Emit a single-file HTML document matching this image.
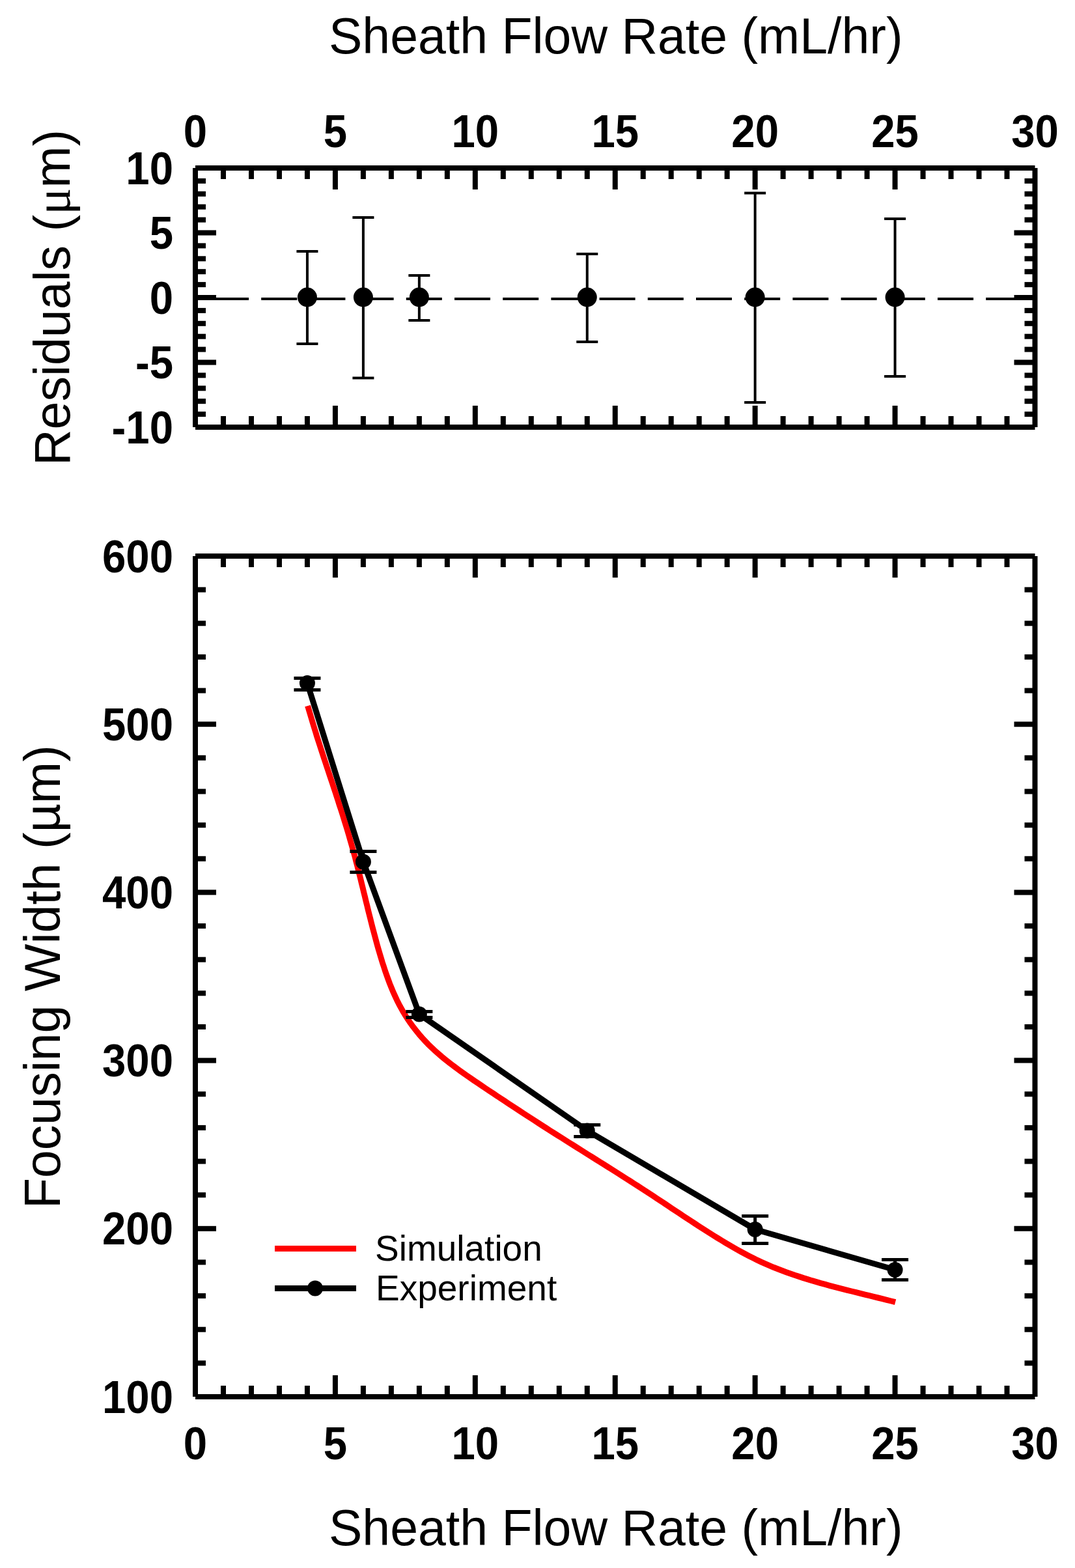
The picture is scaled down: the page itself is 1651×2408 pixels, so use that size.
<!DOCTYPE html>
<html><head><meta charset="utf-8"><title>Focusing width vs sheath flow rate</title>
<style>html,body{margin:0;padding:0;background:#fff;width:1651px;height:2408px;overflow:hidden}svg{display:block}</style>
</head><body>
<svg width="1651" height="2408" viewBox="0 0 1651 2408">
<style>
.tl{font-family:'Liberation Sans', Arial, sans-serif;font-weight:bold;font-size:66px;fill:#000}
.tt{font-family:'Liberation Sans', Arial, sans-serif;font-size:77px;fill:#000}
.lg{font-family:'Liberation Sans', Arial, sans-serif;font-size:55px;fill:#000}
.sym{font-family:'Liberation Serif', serif}
</style>
<rect width="1651" height="2408" fill="#fff"/>
<text x="505" y="82" class="tt">Sheath Flow Rate (mL/hr)</text>
<text x="505" y="2373" class="tt">Sheath Flow Rate (mL/hr)</text>
<text transform="translate(107,715) rotate(-90)" class="tt">Residuals (<tspan class="sym">μ</tspan>m)</text>
<text transform="translate(92,1856) rotate(-90)" class="tt">Focusing Width (µm)</text>
<line x1="304.0" y1="459" x2="1585.5" y2="459" stroke="#000" stroke-width="4" stroke-dasharray="55 19.2" stroke-dashoffset="51.20"/>
<line x1="300.00" y1="258.00" x2="1589.50" y2="258.00" stroke="#000" stroke-width="8"/>
<line x1="300.00" y1="656.00" x2="1589.50" y2="656.00" stroke="#000" stroke-width="8"/>
<line x1="300.00" y1="258.00" x2="300.00" y2="656.00" stroke="#000" stroke-width="8"/>
<line x1="1589.50" y1="258.00" x2="1589.50" y2="656.00" stroke="#000" stroke-width="8"/>
<line x1="342.98" y1="258.00" x2="342.98" y2="275.00" stroke="#000" stroke-width="8"/>
<line x1="342.98" y1="656.00" x2="342.98" y2="639.00" stroke="#000" stroke-width="8"/>
<line x1="385.97" y1="258.00" x2="385.97" y2="275.00" stroke="#000" stroke-width="8"/>
<line x1="385.97" y1="656.00" x2="385.97" y2="639.00" stroke="#000" stroke-width="8"/>
<line x1="428.95" y1="258.00" x2="428.95" y2="275.00" stroke="#000" stroke-width="8"/>
<line x1="428.95" y1="656.00" x2="428.95" y2="639.00" stroke="#000" stroke-width="8"/>
<line x1="471.93" y1="258.00" x2="471.93" y2="275.00" stroke="#000" stroke-width="8"/>
<line x1="471.93" y1="656.00" x2="471.93" y2="639.00" stroke="#000" stroke-width="8"/>
<line x1="514.92" y1="258.00" x2="514.92" y2="291.00" stroke="#000" stroke-width="8"/>
<line x1="514.92" y1="656.00" x2="514.92" y2="623.00" stroke="#000" stroke-width="8"/>
<line x1="557.90" y1="258.00" x2="557.90" y2="275.00" stroke="#000" stroke-width="8"/>
<line x1="557.90" y1="656.00" x2="557.90" y2="639.00" stroke="#000" stroke-width="8"/>
<line x1="600.88" y1="258.00" x2="600.88" y2="275.00" stroke="#000" stroke-width="8"/>
<line x1="600.88" y1="656.00" x2="600.88" y2="639.00" stroke="#000" stroke-width="8"/>
<line x1="643.87" y1="258.00" x2="643.87" y2="275.00" stroke="#000" stroke-width="8"/>
<line x1="643.87" y1="656.00" x2="643.87" y2="639.00" stroke="#000" stroke-width="8"/>
<line x1="686.85" y1="258.00" x2="686.85" y2="275.00" stroke="#000" stroke-width="8"/>
<line x1="686.85" y1="656.00" x2="686.85" y2="639.00" stroke="#000" stroke-width="8"/>
<line x1="729.83" y1="258.00" x2="729.83" y2="291.00" stroke="#000" stroke-width="8"/>
<line x1="729.83" y1="656.00" x2="729.83" y2="623.00" stroke="#000" stroke-width="8"/>
<line x1="772.82" y1="258.00" x2="772.82" y2="275.00" stroke="#000" stroke-width="8"/>
<line x1="772.82" y1="656.00" x2="772.82" y2="639.00" stroke="#000" stroke-width="8"/>
<line x1="815.80" y1="258.00" x2="815.80" y2="275.00" stroke="#000" stroke-width="8"/>
<line x1="815.80" y1="656.00" x2="815.80" y2="639.00" stroke="#000" stroke-width="8"/>
<line x1="858.78" y1="258.00" x2="858.78" y2="275.00" stroke="#000" stroke-width="8"/>
<line x1="858.78" y1="656.00" x2="858.78" y2="639.00" stroke="#000" stroke-width="8"/>
<line x1="901.77" y1="258.00" x2="901.77" y2="275.00" stroke="#000" stroke-width="8"/>
<line x1="901.77" y1="656.00" x2="901.77" y2="639.00" stroke="#000" stroke-width="8"/>
<line x1="944.75" y1="258.00" x2="944.75" y2="291.00" stroke="#000" stroke-width="8"/>
<line x1="944.75" y1="656.00" x2="944.75" y2="623.00" stroke="#000" stroke-width="8"/>
<line x1="987.73" y1="258.00" x2="987.73" y2="275.00" stroke="#000" stroke-width="8"/>
<line x1="987.73" y1="656.00" x2="987.73" y2="639.00" stroke="#000" stroke-width="8"/>
<line x1="1030.72" y1="258.00" x2="1030.72" y2="275.00" stroke="#000" stroke-width="8"/>
<line x1="1030.72" y1="656.00" x2="1030.72" y2="639.00" stroke="#000" stroke-width="8"/>
<line x1="1073.70" y1="258.00" x2="1073.70" y2="275.00" stroke="#000" stroke-width="8"/>
<line x1="1073.70" y1="656.00" x2="1073.70" y2="639.00" stroke="#000" stroke-width="8"/>
<line x1="1116.68" y1="258.00" x2="1116.68" y2="275.00" stroke="#000" stroke-width="8"/>
<line x1="1116.68" y1="656.00" x2="1116.68" y2="639.00" stroke="#000" stroke-width="8"/>
<line x1="1159.67" y1="258.00" x2="1159.67" y2="291.00" stroke="#000" stroke-width="8"/>
<line x1="1159.67" y1="656.00" x2="1159.67" y2="623.00" stroke="#000" stroke-width="8"/>
<line x1="1202.65" y1="258.00" x2="1202.65" y2="275.00" stroke="#000" stroke-width="8"/>
<line x1="1202.65" y1="656.00" x2="1202.65" y2="639.00" stroke="#000" stroke-width="8"/>
<line x1="1245.63" y1="258.00" x2="1245.63" y2="275.00" stroke="#000" stroke-width="8"/>
<line x1="1245.63" y1="656.00" x2="1245.63" y2="639.00" stroke="#000" stroke-width="8"/>
<line x1="1288.62" y1="258.00" x2="1288.62" y2="275.00" stroke="#000" stroke-width="8"/>
<line x1="1288.62" y1="656.00" x2="1288.62" y2="639.00" stroke="#000" stroke-width="8"/>
<line x1="1331.60" y1="258.00" x2="1331.60" y2="275.00" stroke="#000" stroke-width="8"/>
<line x1="1331.60" y1="656.00" x2="1331.60" y2="639.00" stroke="#000" stroke-width="8"/>
<line x1="1374.58" y1="258.00" x2="1374.58" y2="291.00" stroke="#000" stroke-width="8"/>
<line x1="1374.58" y1="656.00" x2="1374.58" y2="623.00" stroke="#000" stroke-width="8"/>
<line x1="1417.57" y1="258.00" x2="1417.57" y2="275.00" stroke="#000" stroke-width="8"/>
<line x1="1417.57" y1="656.00" x2="1417.57" y2="639.00" stroke="#000" stroke-width="8"/>
<line x1="1460.55" y1="258.00" x2="1460.55" y2="275.00" stroke="#000" stroke-width="8"/>
<line x1="1460.55" y1="656.00" x2="1460.55" y2="639.00" stroke="#000" stroke-width="8"/>
<line x1="1503.53" y1="258.00" x2="1503.53" y2="275.00" stroke="#000" stroke-width="8"/>
<line x1="1503.53" y1="656.00" x2="1503.53" y2="639.00" stroke="#000" stroke-width="8"/>
<line x1="1546.52" y1="258.00" x2="1546.52" y2="275.00" stroke="#000" stroke-width="8"/>
<line x1="1546.52" y1="656.00" x2="1546.52" y2="639.00" stroke="#000" stroke-width="8"/>
<line x1="300.00" y1="636.10" x2="316.00" y2="636.10" stroke="#000" stroke-width="8"/>
<line x1="1589.50" y1="636.10" x2="1573.50" y2="636.10" stroke="#000" stroke-width="8"/>
<line x1="300.00" y1="616.20" x2="316.00" y2="616.20" stroke="#000" stroke-width="8"/>
<line x1="1589.50" y1="616.20" x2="1573.50" y2="616.20" stroke="#000" stroke-width="8"/>
<line x1="300.00" y1="596.30" x2="316.00" y2="596.30" stroke="#000" stroke-width="8"/>
<line x1="1589.50" y1="596.30" x2="1573.50" y2="596.30" stroke="#000" stroke-width="8"/>
<line x1="300.00" y1="576.40" x2="316.00" y2="576.40" stroke="#000" stroke-width="8"/>
<line x1="1589.50" y1="576.40" x2="1573.50" y2="576.40" stroke="#000" stroke-width="8"/>
<line x1="300.00" y1="536.60" x2="316.00" y2="536.60" stroke="#000" stroke-width="8"/>
<line x1="1589.50" y1="536.60" x2="1573.50" y2="536.60" stroke="#000" stroke-width="8"/>
<line x1="300.00" y1="516.70" x2="316.00" y2="516.70" stroke="#000" stroke-width="8"/>
<line x1="1589.50" y1="516.70" x2="1573.50" y2="516.70" stroke="#000" stroke-width="8"/>
<line x1="300.00" y1="496.80" x2="316.00" y2="496.80" stroke="#000" stroke-width="8"/>
<line x1="1589.50" y1="496.80" x2="1573.50" y2="496.80" stroke="#000" stroke-width="8"/>
<line x1="300.00" y1="476.90" x2="316.00" y2="476.90" stroke="#000" stroke-width="8"/>
<line x1="1589.50" y1="476.90" x2="1573.50" y2="476.90" stroke="#000" stroke-width="8"/>
<line x1="300.00" y1="437.10" x2="316.00" y2="437.10" stroke="#000" stroke-width="8"/>
<line x1="1589.50" y1="437.10" x2="1573.50" y2="437.10" stroke="#000" stroke-width="8"/>
<line x1="300.00" y1="417.20" x2="316.00" y2="417.20" stroke="#000" stroke-width="8"/>
<line x1="1589.50" y1="417.20" x2="1573.50" y2="417.20" stroke="#000" stroke-width="8"/>
<line x1="300.00" y1="397.30" x2="316.00" y2="397.30" stroke="#000" stroke-width="8"/>
<line x1="1589.50" y1="397.30" x2="1573.50" y2="397.30" stroke="#000" stroke-width="8"/>
<line x1="300.00" y1="377.40" x2="316.00" y2="377.40" stroke="#000" stroke-width="8"/>
<line x1="1589.50" y1="377.40" x2="1573.50" y2="377.40" stroke="#000" stroke-width="8"/>
<line x1="300.00" y1="337.60" x2="316.00" y2="337.60" stroke="#000" stroke-width="8"/>
<line x1="1589.50" y1="337.60" x2="1573.50" y2="337.60" stroke="#000" stroke-width="8"/>
<line x1="300.00" y1="317.70" x2="316.00" y2="317.70" stroke="#000" stroke-width="8"/>
<line x1="1589.50" y1="317.70" x2="1573.50" y2="317.70" stroke="#000" stroke-width="8"/>
<line x1="300.00" y1="297.80" x2="316.00" y2="297.80" stroke="#000" stroke-width="8"/>
<line x1="1589.50" y1="297.80" x2="1573.50" y2="297.80" stroke="#000" stroke-width="8"/>
<line x1="300.00" y1="277.90" x2="316.00" y2="277.90" stroke="#000" stroke-width="8"/>
<line x1="1589.50" y1="277.90" x2="1573.50" y2="277.90" stroke="#000" stroke-width="8"/>
<line x1="300.00" y1="556.50" x2="332.00" y2="556.50" stroke="#000" stroke-width="8"/>
<line x1="1589.50" y1="556.50" x2="1557.50" y2="556.50" stroke="#000" stroke-width="8"/>
<line x1="300.00" y1="457.00" x2="332.00" y2="457.00" stroke="#000" stroke-width="8"/>
<line x1="1589.50" y1="457.00" x2="1557.50" y2="457.00" stroke="#000" stroke-width="8"/>
<line x1="300.00" y1="357.50" x2="332.00" y2="357.50" stroke="#000" stroke-width="8"/>
<line x1="1589.50" y1="357.50" x2="1557.50" y2="357.50" stroke="#000" stroke-width="8"/>
<text transform="translate(300.00,226.00) scale(0.99,1.065)" text-anchor="middle" class="tl">0</text>
<text transform="translate(514.92,226.00) scale(0.99,1.065)" text-anchor="middle" class="tl">5</text>
<text transform="translate(729.83,226.00) scale(0.99,1.065)" text-anchor="middle" class="tl">10</text>
<text transform="translate(944.75,226.00) scale(0.99,1.065)" text-anchor="middle" class="tl">15</text>
<text transform="translate(1159.67,226.00) scale(0.99,1.065)" text-anchor="middle" class="tl">20</text>
<text transform="translate(1374.58,226.00) scale(0.99,1.065)" text-anchor="middle" class="tl">25</text>
<text transform="translate(1589.50,226.00) scale(0.99,1.065)" text-anchor="middle" class="tl">30</text>
<text transform="translate(266.00,282.50) scale(0.99,1.065)" text-anchor="end" class="tl">10</text>
<text transform="translate(266.00,382.00) scale(0.99,1.065)" text-anchor="end" class="tl">5</text>
<text transform="translate(266.00,481.50) scale(0.99,1.065)" text-anchor="end" class="tl">0</text>
<text transform="translate(266.00,581.00) scale(0.99,1.065)" text-anchor="end" class="tl">-5</text>
<text transform="translate(266.00,680.50) scale(0.99,1.065)" text-anchor="end" class="tl">-10</text>
<line x1="471.93" y1="386.00" x2="471.93" y2="528.00" stroke="#000" stroke-width="4"/>
<line x1="455.43" y1="386.00" x2="488.43" y2="386.00" stroke="#000" stroke-width="4"/>
<line x1="455.43" y1="528.00" x2="488.43" y2="528.00" stroke="#000" stroke-width="4"/>
<circle cx="471.93" cy="456.5" r="15" fill="#000"/>
<line x1="557.90" y1="334.00" x2="557.90" y2="580.50" stroke="#000" stroke-width="4"/>
<line x1="541.40" y1="334.00" x2="574.40" y2="334.00" stroke="#000" stroke-width="4"/>
<line x1="541.40" y1="580.50" x2="574.40" y2="580.50" stroke="#000" stroke-width="4"/>
<circle cx="557.90" cy="456.5" r="15" fill="#000"/>
<line x1="643.87" y1="423.00" x2="643.87" y2="492.00" stroke="#000" stroke-width="4"/>
<line x1="627.37" y1="423.00" x2="660.37" y2="423.00" stroke="#000" stroke-width="4"/>
<line x1="627.37" y1="492.00" x2="660.37" y2="492.00" stroke="#000" stroke-width="4"/>
<circle cx="643.87" cy="456.5" r="15" fill="#000"/>
<line x1="901.77" y1="390.00" x2="901.77" y2="525.00" stroke="#000" stroke-width="4"/>
<line x1="885.27" y1="390.00" x2="918.27" y2="390.00" stroke="#000" stroke-width="4"/>
<line x1="885.27" y1="525.00" x2="918.27" y2="525.00" stroke="#000" stroke-width="4"/>
<circle cx="901.77" cy="456.5" r="15" fill="#000"/>
<line x1="1159.67" y1="296.50" x2="1159.67" y2="618.00" stroke="#000" stroke-width="4"/>
<line x1="1143.17" y1="296.50" x2="1176.17" y2="296.50" stroke="#000" stroke-width="4"/>
<line x1="1143.17" y1="618.00" x2="1176.17" y2="618.00" stroke="#000" stroke-width="4"/>
<circle cx="1159.67" cy="456.5" r="15" fill="#000"/>
<line x1="1374.58" y1="336.00" x2="1374.58" y2="578.00" stroke="#000" stroke-width="4"/>
<line x1="1358.08" y1="336.00" x2="1391.08" y2="336.00" stroke="#000" stroke-width="4"/>
<line x1="1358.08" y1="578.00" x2="1391.08" y2="578.00" stroke="#000" stroke-width="4"/>
<circle cx="1374.58" cy="456.5" r="15" fill="#000"/>
<line x1="300.00" y1="854.00" x2="1589.50" y2="854.00" stroke="#000" stroke-width="8"/>
<line x1="300.00" y1="2145.00" x2="1589.50" y2="2145.00" stroke="#000" stroke-width="8"/>
<line x1="300.00" y1="854.00" x2="300.00" y2="2145.00" stroke="#000" stroke-width="8"/>
<line x1="1589.50" y1="854.00" x2="1589.50" y2="2145.00" stroke="#000" stroke-width="8"/>
<line x1="342.98" y1="854.00" x2="342.98" y2="871.00" stroke="#000" stroke-width="8"/>
<line x1="342.98" y1="2145.00" x2="342.98" y2="2128.00" stroke="#000" stroke-width="8"/>
<line x1="385.97" y1="854.00" x2="385.97" y2="871.00" stroke="#000" stroke-width="8"/>
<line x1="385.97" y1="2145.00" x2="385.97" y2="2128.00" stroke="#000" stroke-width="8"/>
<line x1="428.95" y1="854.00" x2="428.95" y2="871.00" stroke="#000" stroke-width="8"/>
<line x1="428.95" y1="2145.00" x2="428.95" y2="2128.00" stroke="#000" stroke-width="8"/>
<line x1="471.93" y1="854.00" x2="471.93" y2="871.00" stroke="#000" stroke-width="8"/>
<line x1="471.93" y1="2145.00" x2="471.93" y2="2128.00" stroke="#000" stroke-width="8"/>
<line x1="514.92" y1="854.00" x2="514.92" y2="887.00" stroke="#000" stroke-width="8"/>
<line x1="514.92" y1="2145.00" x2="514.92" y2="2112.00" stroke="#000" stroke-width="8"/>
<line x1="557.90" y1="854.00" x2="557.90" y2="871.00" stroke="#000" stroke-width="8"/>
<line x1="557.90" y1="2145.00" x2="557.90" y2="2128.00" stroke="#000" stroke-width="8"/>
<line x1="600.88" y1="854.00" x2="600.88" y2="871.00" stroke="#000" stroke-width="8"/>
<line x1="600.88" y1="2145.00" x2="600.88" y2="2128.00" stroke="#000" stroke-width="8"/>
<line x1="643.87" y1="854.00" x2="643.87" y2="871.00" stroke="#000" stroke-width="8"/>
<line x1="643.87" y1="2145.00" x2="643.87" y2="2128.00" stroke="#000" stroke-width="8"/>
<line x1="686.85" y1="854.00" x2="686.85" y2="871.00" stroke="#000" stroke-width="8"/>
<line x1="686.85" y1="2145.00" x2="686.85" y2="2128.00" stroke="#000" stroke-width="8"/>
<line x1="729.83" y1="854.00" x2="729.83" y2="887.00" stroke="#000" stroke-width="8"/>
<line x1="729.83" y1="2145.00" x2="729.83" y2="2112.00" stroke="#000" stroke-width="8"/>
<line x1="772.82" y1="854.00" x2="772.82" y2="871.00" stroke="#000" stroke-width="8"/>
<line x1="772.82" y1="2145.00" x2="772.82" y2="2128.00" stroke="#000" stroke-width="8"/>
<line x1="815.80" y1="854.00" x2="815.80" y2="871.00" stroke="#000" stroke-width="8"/>
<line x1="815.80" y1="2145.00" x2="815.80" y2="2128.00" stroke="#000" stroke-width="8"/>
<line x1="858.78" y1="854.00" x2="858.78" y2="871.00" stroke="#000" stroke-width="8"/>
<line x1="858.78" y1="2145.00" x2="858.78" y2="2128.00" stroke="#000" stroke-width="8"/>
<line x1="901.77" y1="854.00" x2="901.77" y2="871.00" stroke="#000" stroke-width="8"/>
<line x1="901.77" y1="2145.00" x2="901.77" y2="2128.00" stroke="#000" stroke-width="8"/>
<line x1="944.75" y1="854.00" x2="944.75" y2="887.00" stroke="#000" stroke-width="8"/>
<line x1="944.75" y1="2145.00" x2="944.75" y2="2112.00" stroke="#000" stroke-width="8"/>
<line x1="987.73" y1="854.00" x2="987.73" y2="871.00" stroke="#000" stroke-width="8"/>
<line x1="987.73" y1="2145.00" x2="987.73" y2="2128.00" stroke="#000" stroke-width="8"/>
<line x1="1030.72" y1="854.00" x2="1030.72" y2="871.00" stroke="#000" stroke-width="8"/>
<line x1="1030.72" y1="2145.00" x2="1030.72" y2="2128.00" stroke="#000" stroke-width="8"/>
<line x1="1073.70" y1="854.00" x2="1073.70" y2="871.00" stroke="#000" stroke-width="8"/>
<line x1="1073.70" y1="2145.00" x2="1073.70" y2="2128.00" stroke="#000" stroke-width="8"/>
<line x1="1116.68" y1="854.00" x2="1116.68" y2="871.00" stroke="#000" stroke-width="8"/>
<line x1="1116.68" y1="2145.00" x2="1116.68" y2="2128.00" stroke="#000" stroke-width="8"/>
<line x1="1159.67" y1="854.00" x2="1159.67" y2="887.00" stroke="#000" stroke-width="8"/>
<line x1="1159.67" y1="2145.00" x2="1159.67" y2="2112.00" stroke="#000" stroke-width="8"/>
<line x1="1202.65" y1="854.00" x2="1202.65" y2="871.00" stroke="#000" stroke-width="8"/>
<line x1="1202.65" y1="2145.00" x2="1202.65" y2="2128.00" stroke="#000" stroke-width="8"/>
<line x1="1245.63" y1="854.00" x2="1245.63" y2="871.00" stroke="#000" stroke-width="8"/>
<line x1="1245.63" y1="2145.00" x2="1245.63" y2="2128.00" stroke="#000" stroke-width="8"/>
<line x1="1288.62" y1="854.00" x2="1288.62" y2="871.00" stroke="#000" stroke-width="8"/>
<line x1="1288.62" y1="2145.00" x2="1288.62" y2="2128.00" stroke="#000" stroke-width="8"/>
<line x1="1331.60" y1="854.00" x2="1331.60" y2="871.00" stroke="#000" stroke-width="8"/>
<line x1="1331.60" y1="2145.00" x2="1331.60" y2="2128.00" stroke="#000" stroke-width="8"/>
<line x1="1374.58" y1="854.00" x2="1374.58" y2="887.00" stroke="#000" stroke-width="8"/>
<line x1="1374.58" y1="2145.00" x2="1374.58" y2="2112.00" stroke="#000" stroke-width="8"/>
<line x1="1417.57" y1="854.00" x2="1417.57" y2="871.00" stroke="#000" stroke-width="8"/>
<line x1="1417.57" y1="2145.00" x2="1417.57" y2="2128.00" stroke="#000" stroke-width="8"/>
<line x1="1460.55" y1="854.00" x2="1460.55" y2="871.00" stroke="#000" stroke-width="8"/>
<line x1="1460.55" y1="2145.00" x2="1460.55" y2="2128.00" stroke="#000" stroke-width="8"/>
<line x1="1503.53" y1="854.00" x2="1503.53" y2="871.00" stroke="#000" stroke-width="8"/>
<line x1="1503.53" y1="2145.00" x2="1503.53" y2="2128.00" stroke="#000" stroke-width="8"/>
<line x1="1546.52" y1="854.00" x2="1546.52" y2="871.00" stroke="#000" stroke-width="8"/>
<line x1="1546.52" y1="2145.00" x2="1546.52" y2="2128.00" stroke="#000" stroke-width="8"/>
<line x1="300.00" y1="2093.36" x2="316.00" y2="2093.36" stroke="#000" stroke-width="8"/>
<line x1="1589.50" y1="2093.36" x2="1573.50" y2="2093.36" stroke="#000" stroke-width="8"/>
<line x1="300.00" y1="2041.72" x2="316.00" y2="2041.72" stroke="#000" stroke-width="8"/>
<line x1="1589.50" y1="2041.72" x2="1573.50" y2="2041.72" stroke="#000" stroke-width="8"/>
<line x1="300.00" y1="1990.08" x2="316.00" y2="1990.08" stroke="#000" stroke-width="8"/>
<line x1="1589.50" y1="1990.08" x2="1573.50" y2="1990.08" stroke="#000" stroke-width="8"/>
<line x1="300.00" y1="1938.44" x2="316.00" y2="1938.44" stroke="#000" stroke-width="8"/>
<line x1="1589.50" y1="1938.44" x2="1573.50" y2="1938.44" stroke="#000" stroke-width="8"/>
<line x1="300.00" y1="1835.16" x2="316.00" y2="1835.16" stroke="#000" stroke-width="8"/>
<line x1="1589.50" y1="1835.16" x2="1573.50" y2="1835.16" stroke="#000" stroke-width="8"/>
<line x1="300.00" y1="1783.52" x2="316.00" y2="1783.52" stroke="#000" stroke-width="8"/>
<line x1="1589.50" y1="1783.52" x2="1573.50" y2="1783.52" stroke="#000" stroke-width="8"/>
<line x1="300.00" y1="1731.88" x2="316.00" y2="1731.88" stroke="#000" stroke-width="8"/>
<line x1="1589.50" y1="1731.88" x2="1573.50" y2="1731.88" stroke="#000" stroke-width="8"/>
<line x1="300.00" y1="1680.24" x2="316.00" y2="1680.24" stroke="#000" stroke-width="8"/>
<line x1="1589.50" y1="1680.24" x2="1573.50" y2="1680.24" stroke="#000" stroke-width="8"/>
<line x1="300.00" y1="1576.96" x2="316.00" y2="1576.96" stroke="#000" stroke-width="8"/>
<line x1="1589.50" y1="1576.96" x2="1573.50" y2="1576.96" stroke="#000" stroke-width="8"/>
<line x1="300.00" y1="1525.32" x2="316.00" y2="1525.32" stroke="#000" stroke-width="8"/>
<line x1="1589.50" y1="1525.32" x2="1573.50" y2="1525.32" stroke="#000" stroke-width="8"/>
<line x1="300.00" y1="1473.68" x2="316.00" y2="1473.68" stroke="#000" stroke-width="8"/>
<line x1="1589.50" y1="1473.68" x2="1573.50" y2="1473.68" stroke="#000" stroke-width="8"/>
<line x1="300.00" y1="1422.04" x2="316.00" y2="1422.04" stroke="#000" stroke-width="8"/>
<line x1="1589.50" y1="1422.04" x2="1573.50" y2="1422.04" stroke="#000" stroke-width="8"/>
<line x1="300.00" y1="1318.76" x2="316.00" y2="1318.76" stroke="#000" stroke-width="8"/>
<line x1="1589.50" y1="1318.76" x2="1573.50" y2="1318.76" stroke="#000" stroke-width="8"/>
<line x1="300.00" y1="1267.12" x2="316.00" y2="1267.12" stroke="#000" stroke-width="8"/>
<line x1="1589.50" y1="1267.12" x2="1573.50" y2="1267.12" stroke="#000" stroke-width="8"/>
<line x1="300.00" y1="1215.48" x2="316.00" y2="1215.48" stroke="#000" stroke-width="8"/>
<line x1="1589.50" y1="1215.48" x2="1573.50" y2="1215.48" stroke="#000" stroke-width="8"/>
<line x1="300.00" y1="1163.84" x2="316.00" y2="1163.84" stroke="#000" stroke-width="8"/>
<line x1="1589.50" y1="1163.84" x2="1573.50" y2="1163.84" stroke="#000" stroke-width="8"/>
<line x1="300.00" y1="1060.56" x2="316.00" y2="1060.56" stroke="#000" stroke-width="8"/>
<line x1="1589.50" y1="1060.56" x2="1573.50" y2="1060.56" stroke="#000" stroke-width="8"/>
<line x1="300.00" y1="1008.92" x2="316.00" y2="1008.92" stroke="#000" stroke-width="8"/>
<line x1="1589.50" y1="1008.92" x2="1573.50" y2="1008.92" stroke="#000" stroke-width="8"/>
<line x1="300.00" y1="957.28" x2="316.00" y2="957.28" stroke="#000" stroke-width="8"/>
<line x1="1589.50" y1="957.28" x2="1573.50" y2="957.28" stroke="#000" stroke-width="8"/>
<line x1="300.00" y1="905.64" x2="316.00" y2="905.64" stroke="#000" stroke-width="8"/>
<line x1="1589.50" y1="905.64" x2="1573.50" y2="905.64" stroke="#000" stroke-width="8"/>
<line x1="300.00" y1="1886.80" x2="332.00" y2="1886.80" stroke="#000" stroke-width="8"/>
<line x1="1589.50" y1="1886.80" x2="1557.50" y2="1886.80" stroke="#000" stroke-width="8"/>
<line x1="300.00" y1="1628.60" x2="332.00" y2="1628.60" stroke="#000" stroke-width="8"/>
<line x1="1589.50" y1="1628.60" x2="1557.50" y2="1628.60" stroke="#000" stroke-width="8"/>
<line x1="300.00" y1="1370.40" x2="332.00" y2="1370.40" stroke="#000" stroke-width="8"/>
<line x1="1589.50" y1="1370.40" x2="1557.50" y2="1370.40" stroke="#000" stroke-width="8"/>
<line x1="300.00" y1="1112.20" x2="332.00" y2="1112.20" stroke="#000" stroke-width="8"/>
<line x1="1589.50" y1="1112.20" x2="1557.50" y2="1112.20" stroke="#000" stroke-width="8"/>
<text transform="translate(300.00,2241.00) scale(0.99,1.065)" text-anchor="middle" class="tl">0</text>
<text transform="translate(514.92,2241.00) scale(0.99,1.065)" text-anchor="middle" class="tl">5</text>
<text transform="translate(729.83,2241.00) scale(0.99,1.065)" text-anchor="middle" class="tl">10</text>
<text transform="translate(944.75,2241.00) scale(0.99,1.065)" text-anchor="middle" class="tl">15</text>
<text transform="translate(1159.67,2241.00) scale(0.99,1.065)" text-anchor="middle" class="tl">20</text>
<text transform="translate(1374.58,2241.00) scale(0.99,1.065)" text-anchor="middle" class="tl">25</text>
<text transform="translate(1589.50,2241.00) scale(0.99,1.065)" text-anchor="middle" class="tl">30</text>
<text transform="translate(266.00,878.50) scale(0.99,1.065)" text-anchor="end" class="tl">600</text>
<text transform="translate(266.00,1136.70) scale(0.99,1.065)" text-anchor="end" class="tl">500</text>
<text transform="translate(266.00,1394.90) scale(0.99,1.065)" text-anchor="end" class="tl">400</text>
<text transform="translate(266.00,1653.10) scale(0.99,1.065)" text-anchor="end" class="tl">300</text>
<text transform="translate(266.00,1911.30) scale(0.99,1.065)" text-anchor="end" class="tl">200</text>
<text transform="translate(266.00,2169.50) scale(0.99,1.065)" text-anchor="end" class="tl">100</text>
<polyline points="472.6,1083.9 474.5,1090.6 476.5,1097.3 478.5,1104.0 480.5,1110.6 482.5,1117.3 484.6,1123.9 486.6,1130.6 488.7,1137.2 490.9,1143.8 493.0,1150.4 495.2,1157.0 497.3,1163.6 499.5,1170.2 501.7,1176.8 503.9,1183.4 506.1,1190.0 508.3,1196.6 510.5,1203.2 512.7,1209.8 514.9,1216.4 517.0,1223.0 519.2,1229.6 521.3,1236.3 523.5,1242.9 525.6,1249.5 527.7,1256.1 529.7,1262.8 531.8,1269.4 533.8,1276.0 535.8,1282.7 537.7,1289.4 539.6,1296.1 541.5,1302.8 543.4,1309.5 545.2,1316.2 546.9,1322.9 548.7,1329.6 550.4,1336.4 552.1,1343.1 553.8,1349.9 555.4,1356.6 557.1,1363.4 558.7,1370.2 560.4,1376.9 562.0,1383.7 563.7,1390.4 565.3,1397.2 567.0,1404.0 568.7,1410.7 570.4,1417.5 572.1,1424.2 573.9,1430.9 575.7,1437.7 577.5,1444.4 579.3,1451.1 581.2,1457.8 583.2,1464.5 585.2,1471.1 587.2,1477.8 589.4,1484.4 591.5,1491.0 593.8,1497.5 596.2,1504.1 598.6,1510.6 601.2,1517.0 603.9,1523.4 606.7,1529.7 609.6,1535.9 612.7,1542.1 616.0,1548.2 619.4,1554.2 623.0,1560.1 626.8,1566.0 630.7,1571.7 634.8,1577.3 639.1,1582.8 643.5,1588.2 648.1,1593.5 652.8,1598.6 657.6,1603.7 662.6,1608.5 667.7,1613.3 672.9,1617.9 678.2,1622.5 683.6,1626.9 689.1,1631.3 694.6,1635.5 700.1,1639.7 705.8,1643.8 711.4,1647.9 717.1,1651.9 722.8,1655.8 728.5,1659.8 734.2,1663.6 740.0,1667.5 745.7,1671.4 751.5,1675.2 757.3,1679.1 763.1,1682.9 768.9,1686.7 774.7,1690.6 780.5,1694.4 786.3,1698.2 792.1,1702.1 798.0,1705.9 803.8,1709.7 809.6,1713.5 815.5,1717.3 821.3,1721.1 827.2,1724.9 833.0,1728.6 838.9,1732.4 844.8,1736.2 850.6,1739.9 856.5,1743.6 862.4,1747.3 868.2,1751.0 874.1,1754.7 880.0,1758.4 885.9,1762.1 891.7,1765.8 897.6,1769.5 903.5,1773.2 909.4,1776.9 915.3,1780.6 921.1,1784.3 927.0,1787.9 932.9,1791.6 938.7,1795.3 944.6,1799.0 950.5,1802.7 956.3,1806.5 962.2,1810.2 968.0,1813.9 973.9,1817.7 979.7,1821.4 985.6,1825.2 991.4,1829.0 997.2,1832.8 1003.0,1836.6 1008.8,1840.4 1014.6,1844.3 1020.5,1848.1 1026.3,1852.0 1032.1,1855.9 1037.9,1859.7 1043.7,1863.6 1049.5,1867.4 1055.3,1871.3 1061.1,1875.1 1067.0,1878.9 1072.8,1882.7 1078.7,1886.5 1084.6,1890.3 1090.5,1894.0 1096.4,1897.7 1102.3,1901.4 1108.3,1905.0 1114.2,1908.6 1120.2,1912.1 1126.2,1915.6 1132.3,1919.1 1138.4,1922.5 1144.5,1925.8 1150.6,1929.0 1156.8,1932.1 1163.0,1935.2 1169.2,1938.1 1175.5,1940.9 1181.8,1943.6 1188.1,1946.3 1194.5,1948.8 1201.0,1951.3 1207.5,1953.7 1214.0,1956.0 1220.5,1958.3 1227.1,1960.4 1233.8,1962.6 1240.4,1964.6 1247.1,1966.7 1253.8,1968.6 1260.5,1970.6 1267.3,1972.4 1274.0,1974.3 1280.8,1976.1 1287.6,1977.9 1294.4,1979.6 1301.1,1981.3 1307.9,1983.0 1314.7,1984.7 1321.5,1986.4 1328.3,1988.1 1335.0,1989.7 1341.8,1991.4 1348.5,1993.0 1355.2,1994.7 1361.9,1996.4 1368.5,1998.0 1375.1,1999.7" fill="none" stroke="#f00" stroke-width="9" stroke-linejoin="round"/>
<polyline points="471.9,1049.0 557.9,1323.4 643.9,1557.5 901.8,1736.4 1159.7,1888.0 1374.6,1950.0" fill="none" stroke="#000" stroke-width="9" stroke-linejoin="round"/>
<line x1="471.93" y1="1041.50" x2="471.93" y2="1059.50" stroke="#000" stroke-width="5"/>
<line x1="451.43" y1="1041.50" x2="492.43" y2="1041.50" stroke="#000" stroke-width="5"/>
<line x1="451.43" y1="1059.50" x2="492.43" y2="1059.50" stroke="#000" stroke-width="5"/>
<circle cx="471.93" cy="1049" r="12" fill="#000"/>
<line x1="557.90" y1="1307.40" x2="557.90" y2="1339.40" stroke="#000" stroke-width="5"/>
<line x1="537.40" y1="1307.40" x2="578.40" y2="1307.40" stroke="#000" stroke-width="5"/>
<line x1="537.40" y1="1339.40" x2="578.40" y2="1339.40" stroke="#000" stroke-width="5"/>
<circle cx="557.90" cy="1323.4" r="12" fill="#000"/>
<line x1="643.87" y1="1553.40" x2="643.87" y2="1562.50" stroke="#000" stroke-width="5"/>
<line x1="623.37" y1="1553.40" x2="664.37" y2="1553.40" stroke="#000" stroke-width="5"/>
<line x1="623.37" y1="1562.50" x2="664.37" y2="1562.50" stroke="#000" stroke-width="5"/>
<circle cx="643.87" cy="1557.5" r="12" fill="#000"/>
<line x1="901.77" y1="1727.40" x2="901.77" y2="1745.40" stroke="#000" stroke-width="5"/>
<line x1="881.27" y1="1727.40" x2="922.27" y2="1727.40" stroke="#000" stroke-width="5"/>
<line x1="881.27" y1="1745.40" x2="922.27" y2="1745.40" stroke="#000" stroke-width="5"/>
<circle cx="901.77" cy="1736.4" r="12" fill="#000"/>
<line x1="1159.67" y1="1867.50" x2="1159.67" y2="1909.50" stroke="#000" stroke-width="5"/>
<line x1="1139.17" y1="1867.50" x2="1180.17" y2="1867.50" stroke="#000" stroke-width="5"/>
<line x1="1139.17" y1="1909.50" x2="1180.17" y2="1909.50" stroke="#000" stroke-width="5"/>
<circle cx="1159.67" cy="1888" r="12" fill="#000"/>
<line x1="1374.58" y1="1934.50" x2="1374.58" y2="1965.40" stroke="#000" stroke-width="5"/>
<line x1="1354.08" y1="1934.50" x2="1395.08" y2="1934.50" stroke="#000" stroke-width="5"/>
<line x1="1354.08" y1="1965.40" x2="1395.08" y2="1965.40" stroke="#000" stroke-width="5"/>
<circle cx="1374.58" cy="1950" r="12" fill="#000"/>
<line x1="422.00" y1="1917.50" x2="547.00" y2="1917.50" stroke="#f00" stroke-width="9"/>
<line x1="422.00" y1="1978.50" x2="547.00" y2="1978.50" stroke="#000" stroke-width="9"/>
<circle cx="484" cy="1978.5" r="12" fill="#000"/>
<text x="576" y="1936" class="lg">Simulation</text>
<text x="577" y="1997" class="lg">Experiment</text>
</svg>
</body></html>
